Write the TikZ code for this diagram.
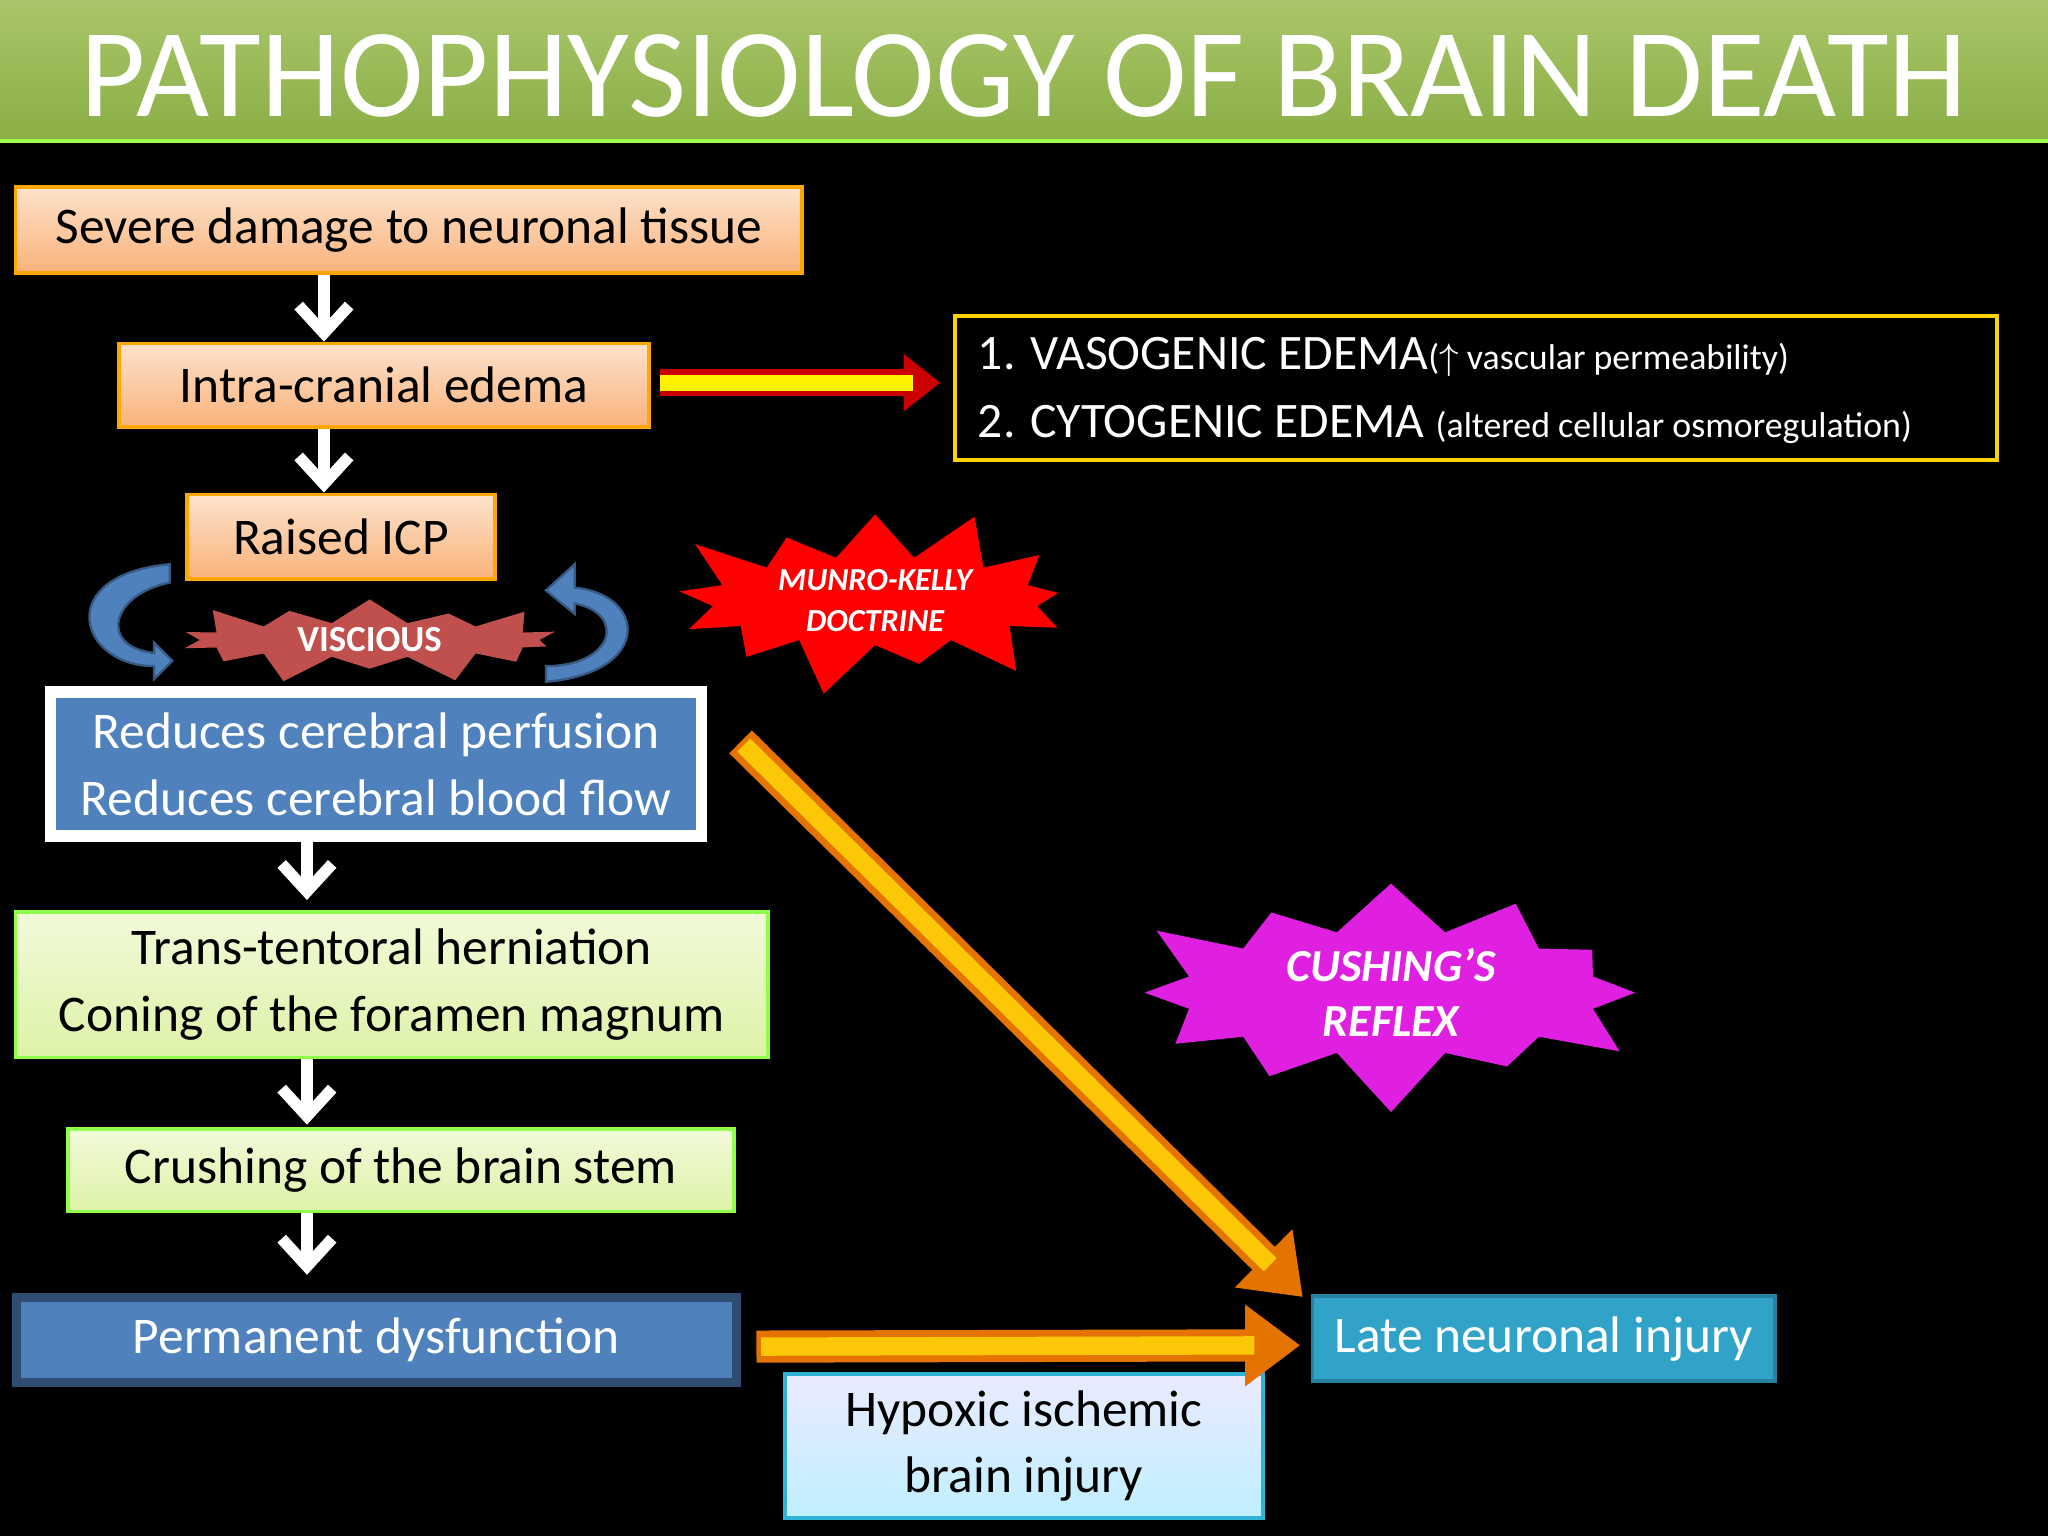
\documentclass[tikz,border=0pt]{standalone}
\usepackage{fontspec}
\setmainfont{Carlito}
\usetikzlibrary{shapes.symbols,arrows.meta,calc}
\definecolor{pbl}{HTML}{4F81BD}
\definecolor{pred}{HTML}{C0504D}
\definecolor{pteal}{HTML}{31A3C8}
\definecolor{pmag}{HTML}{E020E0}
\definecolor{ptop}{HTML}{FDE2CC}
\definecolor{pbot}{HTML}{F9B27A}
\definecolor{gtop}{HTML}{F2FAD9}
\definecolor{gbot}{HTML}{DDF2A8}
\definecolor{ttop}{HTML}{A9C66A}
\definecolor{tbot}{HTML}{8AAE45}
\begin{document}
\begin{tikzpicture}[x=0.01cm,y=-0.01cm,
 ob/.style={draw=orange!70!yellow,thick,top color=ptop,bottom color=pbot,text=black,font=\fontsize{11.2}{13}\selectfont,inner sep=0pt},
 gb/.style={draw=green!50!lime!70!white,thick,top color=gtop,bottom color=gbot,text=black,font=\fontsize{11.2}{14.5}\selectfont,inner sep=0pt,align=center},
 wa/.style={draw=white,line width=2.5pt,-{Straight Barb[length=6pt,width=11pt]}},
 oa/.style={draw=orange!90!black,line width=7pt,-{Triangle[length=12pt,width=17pt]},postaction={draw=yellow!60!orange,line width=4pt,-,shorten >=10pt,shorten <=1pt}},
 burst/.style={starburst,starburst points=14,starburst point height=0.9cm,align=center,inner sep=0pt}]
\fill[black] (0,0) rectangle (1568,1176);
\useasboundingbox (0,0) rectangle (1568,1176);
\shade[top color=ttop,bottom color=tbot] (0,0) rectangle (1568,108);
\draw[green!40!lime!70!white,thick] (0,108)--(1568,108);
\node[text=white,font=\fontsize{27.5}{30}\selectfont] (title) at (784,58) {PATHOPHYSIOLOGY OF BRAIN DEATH};

\node[ob,minimum width=6.02cm,minimum height=0.66cm] (b1) at (313,176) {Severe damage to neuronal tissue};
\node[ob,minimum width=4.06cm,minimum height=0.64cm] (b2) at (294,295) {Intra-cranial edema};
\node[ob,minimum width=2.36cm,minimum height=0.65cm] (b3) at (261,411) {Raised ICP};
\node[draw=yellow!70!orange,thick,fill=black,minimum width=7.97cm,minimum height=1.1cm,inner sep=0pt] (ed) at (1130,297) {};
\node[text=white,align=left,anchor=west,inner sep=0pt,font=\fontsize{10.8}{14}\selectfont] (edt) at (748,299)
 {1. VASOGENIC EDEMA{\fontsize{7.8}{10}\selectfont($\uparrow$ vascular permeability)}\\[1pt]2. CYTOGENIC EDEMA {\fontsize{7.8}{10}\selectfont(altered cellular osmoregulation)}};
\coordinate (ya) at (505,293);
\coordinate (yb) at (720,293);
\draw[red!80!black,line width=6pt,-{Triangle[length=8pt,width=12pt]}] (ya)--(yb);
\draw[yellow,line width=3.5pt,shorten >=6pt] (ya)--(yb);

\node[burst,fill=pred,text=white,minimum width=3.1cm,minimum height=0.35cm,starburst point height=0.25cm,font=\bfseries\fontsize{8}{10}\selectfont] (vis) at (283,490) {VISCIOUS};
\draw[pbl!70!black,fill=pbl,line width=0.5pt] (130,432) .. controls (40,440) and (60,510) .. (118,510) -- (118,520) -- (132,506) -- (118,492) -- (118,500) .. controls (75,495) and (85,455) .. (130,446) -- cycle;
\draw[pbl!70!black,fill=pbl,line width=0.5pt] (418,522) .. controls (500,515) and (495,455) .. (440,450) -- (440,432) -- (418,452) -- (440,470) -- (440,462) .. controls (480,470) and (470,510) .. (418,510) -- cycle;

\node[burst,fill=red,text=white,minimum width=3.4cm,minimum height=0.6cm,starburst point height=0.45cm,starburst points=13,font=\bfseries\itshape\fontsize{7}{9}\selectfont] (mk) at (670,460) {MUNRO-KELLY\\DOCTRINE};

\node[draw=white,line width=2.5pt,fill=pbl,text=white,minimum width=4.98cm,minimum height=1.1cm,align=center,inner sep=0pt,font=\fontsize{11.2}{14.5}\selectfont] (bl) at (288,585) {Reduces cerebral perfusion\\Reduces cerebral blood flow};
\node[gb,minimum width=5.76cm,minimum height=1.11cm] (g1) at (300,754) {Trans-tentoral herniation\\Coning of the foramen magnum};
\node[gb,minimum width=5.1cm,minimum height=0.63cm] (g2) at (307,896) {Crushing of the brain stem};
\node[draw=pbl!60!black,line width=2pt,fill=pbl,text=white,minimum width=5.51cm,minimum height=0.65cm,inner sep=0pt,font=\fontsize{11.2}{13}\selectfont] (pd) at (288,1026) {Permanent dysfunction};
\node[draw=pbl!60!cyan,thick,top color=blue!8!white,bottom color=blue!25!cyan!25!white,text=black,minimum width=3.66cm,minimum height=1.1cm,align=center,inner sep=0pt,font=\fontsize{11.2}{14.5}\selectfont] (hy) at (784,1107) {Hypoxic ischemic\\brain injury};
\node[draw=pteal!80!black,thick,fill=pteal,text=white,minimum width=3.54cm,minimum height=0.65cm,inner sep=0pt,font=\fontsize{11.2}{13}\selectfont] (ln) at (1182,1025) {Late neuronal injury};

\node[burst,fill=pmag,text=white,minimum width=4.2cm,minimum height=0.6cm,starburst point height=0.5cm,starburst points=12,font=\bfseries\itshape\fontsize{10}{12}\selectfont] (cu) at (1065,760) {CUSHING'S\\REFLEX};

\draw[wa] (b1.south-|248,0) -- (b2.north-|248,0);
\draw[wa] (b2.south-|248,0) -- (b3.north-|248,0);
\draw[wa] (bl.south-|235,0) -- ($(g1.north-|235,0)+(0,-8)$);
\draw[wa] (g1.south-|235,0) -- ($(g2.north-|235,0)+(0,-2)$);
\draw[wa] (g2.south-|235,0) -- ($(pd.north-|235,0)+(0,-14)$);
\coordinate (d1) at (567,568);
\draw[oa] (d1) -- ($(ln.north west)+(-6,2)$);
\draw[oa] ($(pd.east)+(12,5)$) -- ($(ln.west)+(-8,5)$);
\end{tikzpicture}
\end{document}
